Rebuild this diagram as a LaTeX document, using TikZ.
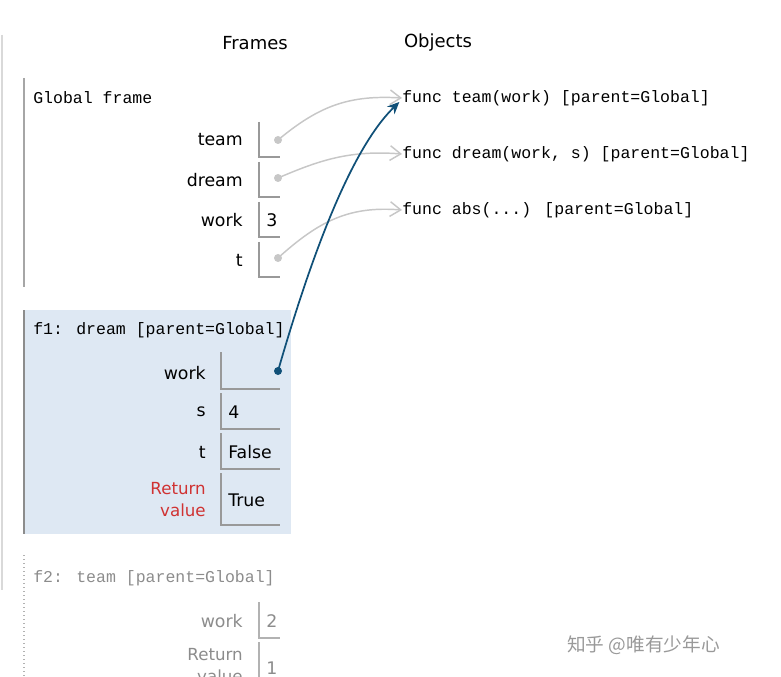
\documentclass[tikz,border=0pt]{standalone}
\usepackage{fontspec}
\usetikzlibrary{arrows.meta}
\setmainfont{DejaVu Sans}
\newfontfamily\cjk{Noto Sans CJK SC}
\newfontfamily\mono{Liberation Mono}
\definecolor{fbg}{RGB}{222,232,243}
\definecolor{pblue}{RGB}{16,80,120}
\definecolor{rred}{RGB}{208,50,50}
\begin{document}
\begin{tikzpicture}[x=0.75pt,y=-0.75pt,
  lab/.style={font=\fontsize{13}{15}\selectfont,anchor=east,inner sep=0},
  val/.style={font=\fontsize{13}{15}\selectfont,anchor=west,inner sep=0},
  mono/.style={font=\mono\fontsize{12.4}{14}\selectfont,anchor=west,inner sep=0},
  cell/.style={draw=black!40,line width=0.8pt},
  gptr/.style={draw=black!22,line width=1.1pt,-{Straight Barb[length=8pt,width=11pt]}},
  dot/.style={circle,fill=#1,inner sep=0,minimum size=6pt}]
\useasboundingbox (0,0) rectangle (781,677);
\clip (0,0) rectangle (781,677);
\draw[black!15,line width=1pt] (2,35) -- (2,590);
\node[font=\fontsize{13.5}{15}\selectfont] (hf) at (255,43) {Frames};
\node[font=\fontsize{13.5}{15}\selectfont] (ho) at (438,43) {Objects};
% global frame
\draw[black!35,line width=1pt] (24,78) -- (24,287);
\node[mono] (gf) at (33,98) {Global frame};
\foreach \n/\y/\v in {team/140/,dream/180/,work/220/3,t/260/}{
  \node[lab] (g\n) at (243,\y) {\n};
  \draw[cell] (259,\y-18) -- (259,\y+17) -- (280,\y+17);
  \node[val] (gv\n) at (266,\y) {\v};
}
\node[dot=black!22] (dteam) at (278,140) {};
\node[dot=black!22] (ddream) at (278,178) {};
\node[dot=black!22] (dt) at (278,258) {};
% objects
\node[mono] (o1) at (402,98) {func team(work) [parent=Global]};
\node[mono] (o2) at (402,154) {func dream(work,  s) [parent=Global]};
\node[mono] (o3) at (402,210) {func abs(...) [parent=Global]};
% f1
\fill[fbg] (24,310) rectangle (291,534);
\draw[black!45,line width=1pt] (24,310) -- (24,534);
\node[mono] (f1) at (33,330) {f1: dream [parent=Global]};
\foreach \n/\y/\a/\b/\v in {work/373/352/389/,s/412/393/429/4,t/452/433/469/False}{
  \node[lab] (h\n) at (206,\y) {\n};
  \draw[cell] (221,\a) -- (221,\b) -- (280,\b);
  \node[val] (hv\n) at (228,\y) {\v};
}
\node[lab,align=right,text=rred,font=\fontsize{12.5}{16.5}\selectfont] (hr) at (206,500) {Return\\value};
\draw[cell] (221,473) -- (221,525) -- (280,525);
\node[val] (hvr) at (228,500) {True};
\node[dot=pblue] (dw) at (278,371) {};
% f2
\draw[black!30,line width=1pt,dotted] (24,555) -- (24,677);
\node[mono,text=black!45] (f2) at (33,578) {f2: team [parent=Global]};
\node[lab,text=black!45] (kw) at (243,621) {work};
\draw[cell,black!30] (259,602) -- (259,638) -- (280,638);
\node[val,text=black!45] (kv) at (266,621) {2};
\node[lab,text=black!45,font=\fontsize{12.5}{16.5}\selectfont,align=right,anchor=north east] (kr) at (243,648) {Return\\value};
\draw[cell,black!30] (259,642) -- (259,680);
\node[val,text=black!45] (kv2) at (266,668) {1};
% pointers
\draw[gptr] (dteam.center) .. controls (320,105) and (350,95) .. (o1.west);
\draw[gptr] (ddream.center) .. controls (320,160) and (350,150) .. (o2.west);
\draw[gptr] (dt.center) .. controls (320,220) and (350,206) .. (o3.west);
\draw[line width=1.3pt,draw=pblue,-{Stealth[length=9pt,width=8pt]}] (dw.center) .. controls (310,260) and (350,150) .. ([xshift=-2pt,yshift=-3pt]o1.west);
% watermark
\node[font=\cjk\fontsize{14}{16}\selectfont,text=black!40,anchor=west,inner sep=0] (wm) at (567,645) {知乎 @唯有少年心};
\end{tikzpicture}
\end{document}
